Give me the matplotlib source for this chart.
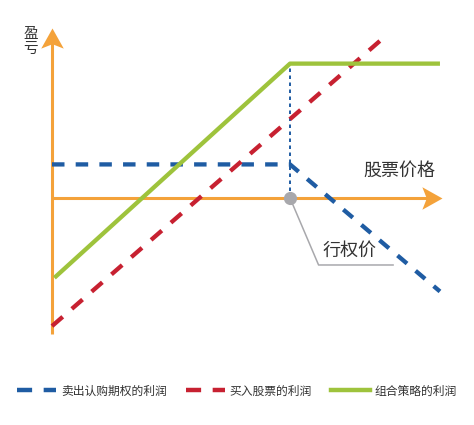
import matplotlib
matplotlib.use("Agg")
import matplotlib.pyplot as plt
from matplotlib.path import Path
from matplotlib.lines import Line2D

plt.rcParams['font.family'] = ['Noto Sans CJK SC', 'DejaVu Sans']

# ---- 数据 ----
strike = 10.0
premium = 1.6
axis_x_end = 16.4
axis_y_low, axis_y_high = -6.5, 8.1

call_x = [0.0, strike, 16.3]
call_y = [premium, premium, -4.45]

stock_x = [0.0, 14.1]
stock_y = [-6.1, 7.8]

combo_x = [0.1, strike, 16.3]
combo_y = [-3.8, 6.4, 6.4]

legend_labels = ['卖出认购期权的利润', '买入股票的利润', '组合策略的利润']

# ---- 颜色 ----
orange = '#F4A23A'
blue = '#1F5CA3'
red = '#C72131'
green = '#9EC33C'
grey = '#A8A8AC'
text_c = '#333333'

fig = plt.figure(figsize=(4.74, 4.25), dpi=100)
ax = fig.add_axes([0, 0, 1, 1])
ax.set_xlim(-2.185, 17.73)
ax.set_ylim(-10.81, 9.43)
ax.axis('off')

# 坐标轴
ax.plot([0, axis_x_end - 0.5], [0, 0], color=orange, lw=2.2, zorder=1, solid_capstyle='butt')
ax.plot([0, 0], [axis_y_low, axis_y_high - 0.5], color=orange, lw=2.2, zorder=1, solid_capstyle='butt')

# 箭头 (凹底三角)
head_r = Path([(0, 0), (-1, 0.56), (-0.78, 0), (-1, -0.56), (0, 0)],
              [Path.MOVETO, Path.LINETO, Path.LINETO, Path.LINETO, Path.CLOSEPOLY])
head_u = Path([(0, 0), (0.56, -1), (0, -0.78), (-0.56, -1), (0, 0)],
              [Path.MOVETO, Path.LINETO, Path.LINETO, Path.LINETO, Path.CLOSEPOLY])
ax.plot(axis_x_end, 0, marker=head_r, markersize=29, color=orange, mew=0, zorder=2)
ax.plot(0, axis_y_high, marker=head_u, markersize=29, color=orange, mew=0, zorder=2)

# 三条利润线
ax.plot(call_x, call_y, color=blue, lw=3.1, dashes=(2.9, 2.6), zorder=3)
ax.plot(stock_x, stock_y, color=red, lw=3.1, dashes=(3.3, 2.8), zorder=4)
ax.plot(combo_x, combo_y, color=green, lw=3.1, zorder=5, solid_capstyle='butt')

# 行权价竖虚线
ax.plot([strike, strike], [0, combo_y[1]], color=blue, lw=1.4, dashes=(1.8, 1.8), zorder=3)

# 行权价标注
ax.plot([strike, 11.2, 14.33], [0, -3.19, -3.19], color=grey, lw=1.1, zorder=5)
ax.plot(strike, 0, 'o', markersize=9.5, color=grey, mew=0, zorder=6)
ax.text(12.5, -2.5, '行权价', fontsize=13, color=text_c, ha='center', va='center')

# 轴标签
ax.text(14.58, 1.3, '股票价格', fontsize=13, color=text_c, ha='center', va='center')
ax.text(-0.9, 7.45, '盈\n亏', fontsize=10.5, color=text_c, ha='center', va='center',
        linespacing=1.05)

# 图例
handles = [
    Line2D([], [], color=blue, lw=3.2, dashes=(3.4, 2.6)),
    Line2D([], [], color=red, lw=3.2, dashes=(3.4, 2.6)),
    Line2D([], [], color=green, lw=3.2),
]
fig.legend(handles, legend_labels, loc='center', bbox_to_anchor=(0.5, 1 - 391 / 425),
           ncol=3, frameon=False, fontsize=8.5, handlelength=3.3, handletextpad=0.4,
           columnspacing=1.6, labelcolor=text_c)

fig.savefig('out.png', dpi=100)
